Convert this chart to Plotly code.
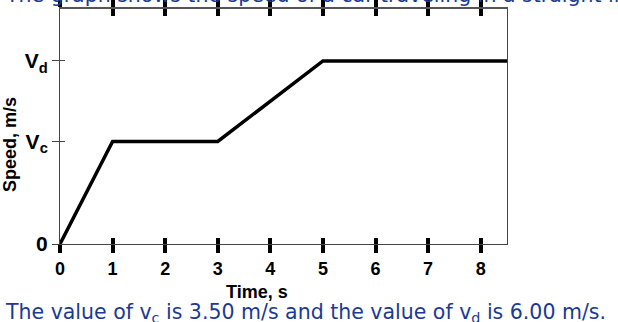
import plotly.graph_objects as go

# Data (schematic speed-time graph)
times = [0, 1, 3, 5, 8.5]
vc = 3.36
vd = 6.0
speeds = [0, vc, vc, vd, vd]

x_tickvals = [0, 1, 2, 3, 4, 5, 6, 7, 8]
x_ticktext = ["0", "1", "2", "3", "4", "5", "6", "7", "8"]
y_tickvals = [0, vc, vd]
y_ticktext = ["0", "V<sub>c</sub>", "V<sub>d</sub>"]

x_range = [0, 8.5]
y_range = [0, 7.70]

top_text = "The graph shows the speed of a car traveling in a straight line."
bottom_text = "The value of v<sub>c</sub> is 3.50 m/s and the value of v<sub>d</sub> is 6.00 m/s."

BLUE = "#1a3a94"
PLOTFONT = "Liberation Sans, Arial, sans-serif"

fig = go.Figure()
fig.add_trace(go.Scatter(x=times, y=speeds, mode="lines",
                         line=dict(color="black", width=3.5),
                         hoverinfo="skip", showlegend=False))

common_x = dict(range=x_range, tickvals=x_tickvals, showgrid=False, zeroline=False,
                tickcolor="black", tickwidth=3.5, fixedrange=True, automargin=False)

fig.update_layout(
    width=618, height=322,
    margin=dict(l=60, r=111, t=9, b=78, autoexpand=False),
    paper_bgcolor="white", plot_bgcolor="white",
    showlegend=False,
    xaxis=dict(**common_x, ticktext=x_ticktext, ticks="outside", ticklen=8,
               showline=True, linecolor="#444", linewidth=1,
               tickfont=dict(family=PLOTFONT, size=18, color="black", weight="bold")),
    xaxis2=dict(**common_x, overlaying="x", anchor="y", side="bottom",
                ticks="inside", ticklen=6, showticklabels=False, showline=False),
    xaxis3=dict(**common_x, overlaying="x", anchor="y", side="top",
                ticks="outside", ticklen=9, showticklabels=False,
                showline=True, linecolor="#555", linewidth=1.5),
    xaxis4=dict(**common_x, overlaying="x", anchor="y", side="top",
                ticks="inside", ticklen=7, showticklabels=False, showline=False),
    yaxis=dict(range=y_range, tickvals=y_tickvals, ticktext=y_ticktext,
               showgrid=False, zeroline=False, ticks="outside", ticklen=7,
               tickcolor="#444", tickwidth=1, showline=True, linecolor="#444",
               linewidth=1, mirror=True, fixedrange=True, automargin=False,
               tickfont=dict(family=PLOTFONT, size=21, color="black", weight="bold")),
    yaxis2=dict(range=y_range, tickvals=y_tickvals, overlaying="y", anchor="x",
                side="left", showgrid=False, zeroline=False, ticks="inside",
                ticklen=5, tickcolor="#444", tickwidth=1, showticklabels=False,
                showline=False, fixedrange=True, automargin=False),
)

# invisible traces so that overlay axes exist as subplots
for xa, ya in [("x2", "y"), ("x3", "y"), ("x4", "y"), ("x", "y2")]:
    fig.add_trace(go.Scatter(x=[None], y=[None], xaxis=xa, yaxis=ya,
                             mode="lines", hoverinfo="skip", showlegend=False))

fig.add_annotation(text="Time, s", xref="paper", yref="paper",
                   x=0.4407, y=-0.204, xanchor="center", yanchor="middle",
                   showarrow=False,
                   font=dict(family=PLOTFONT, size=18, color="black", weight="bold"))
fig.add_annotation(text="Speed, m/s", xref="paper", yref="paper",
                   x=-0.1119, y=0.4255, xanchor="center", yanchor="middle",
                   textangle=-90, showarrow=False,
                   font=dict(family=PLOTFONT, size=18, color="black", weight="bold"))
fig.add_annotation(text=top_text, xref="paper", yref="paper",
                   x=-0.128, y=1.002, xanchor="left", yanchor="bottom",
                   showarrow=False, align="left",
                   font=dict(family="DejaVu Sans", size=20.5, color=BLUE))
fig.add_annotation(text=bottom_text, xref="paper", yref="paper",
                   x=-0.128, y=-0.231, xanchor="left", yanchor="top",
                   showarrow=False, align="left",
                   font=dict(family="DejaVu Sans", size=20.5, color=BLUE))

fig.write_html("out.html", config={"displayModeBar": False})
